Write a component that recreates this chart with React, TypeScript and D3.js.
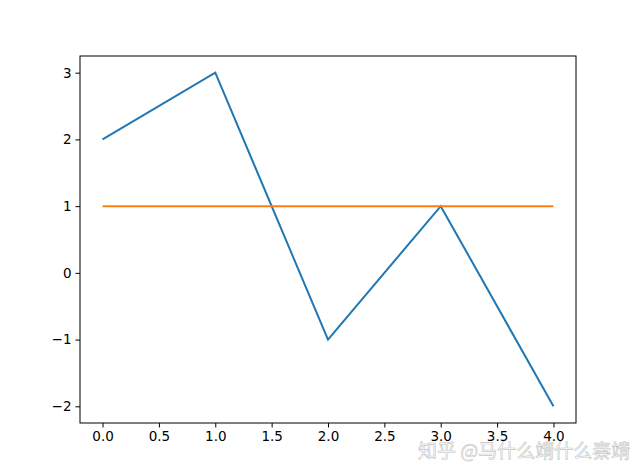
import React, { useEffect, useRef } from 'react';
import * as d3 from 'd3';

const xs = [0, 1, 2, 3, 4];
const seriesA = [2, 3, -1, 1, -2];
const seriesB = [1, 1, 1, 1, 1];
const xTicks = [0, 0.5, 1, 1.5, 2, 2.5, 3, 3.5, 4];
const yTicks = [-2, -1, 0, 1, 2, 3];
const watermark = '知乎 @马什么靖什么秦靖';

const App = () => {
  const ref = useRef<SVGSVGElement>(null);

  useEffect(() => {
    const width = 640;
    const height = 476;
    const m = { left: 80, right: 64, top: 56, bottom: 53 };

    const svg = d3.select(ref.current);
    svg.selectAll('*').remove();

    svg.append('rect').attr('width', width).attr('height', height).attr('fill', '#fff');

    const x = d3.scaleLinear().domain([-0.2, 4.2]).range([m.left, width - m.right]);
    const y = d3.scaleLinear().domain([-2.25, 3.25]).range([height - m.bottom, m.top]);

    const font = 'DejaVu Sans, sans-serif';

    const line = d3
      .line<number>()
      .x((d, i) => x(xs[i]))
      .y(d => y(d));

    svg
      .append('path')
      .datum(seriesA)
      .attr('d', line)
      .attr('fill', 'none')
      .attr('stroke', '#1f77b4')
      .attr('stroke-width', 2);

    svg
      .append('path')
      .datum(seriesB)
      .attr('d', line)
      .attr('fill', 'none')
      .attr('stroke', '#ff7f0e')
      .attr('stroke-width', 2);

    const xAxis = svg
      .append('g')
      .attr('transform', 'translate(0,' + (height - m.bottom) + ')')
      .call(
        d3
          .axisBottom(x)
          .tickValues(xTicks)
          .tickFormat(d3.format('.1f'))
          .tickSize(4.5)
          .tickPadding(4)
      );
    xAxis.select('.domain').remove();
    xAxis.selectAll('text').style('font-family', font).style('font-size', '13.5px').attr('fill', '#000');
    xAxis.selectAll('line').attr('stroke', '#000').attr('stroke-width', 1);

    const yAxis = svg
      .append('g')
      .attr('transform', 'translate(' + m.left + ',0)')
      .call(
        d3
          .axisLeft(y)
          .tickValues(yTicks)
          .tickFormat(d => (Number(d) < 0 ? '\u2212' + Math.abs(Number(d)) : String(d)))
          .tickSize(4.5)
          .tickPadding(4)
      );
    yAxis.select('.domain').remove();
    yAxis.selectAll('text').style('font-family', font).style('font-size', '13.5px').attr('fill', '#000');
    yAxis.selectAll('line').attr('stroke', '#000').attr('stroke-width', 1);

    svg
      .append('rect')
      .attr('x', m.left)
      .attr('y', m.top)
      .attr('width', width - m.left - m.right)
      .attr('height', height - m.top - m.bottom)
      .attr('fill', 'none')
      .attr('stroke', '#000')
      .attr('stroke-width', 1);

    // watermark, drawn on top like the original image
    svg
      .append('text')
      .attr('x', 418)
      .attr('y', 458)
      .text(watermark)
      .style('font-family', 'Noto Sans CJK SC, sans-serif')
      .style('font-size', '19px')
      .attr('fill', 'rgba(255,255,255,0.6)')
      .attr('stroke', '#c4c4c4')
      .attr('stroke-width', 0.6);
  }, []);

  return <svg ref={ref} width={640} height={476} style={{ display: 'block', position: 'absolute', left: 0, top: 0 }} />;
};

export default App;
